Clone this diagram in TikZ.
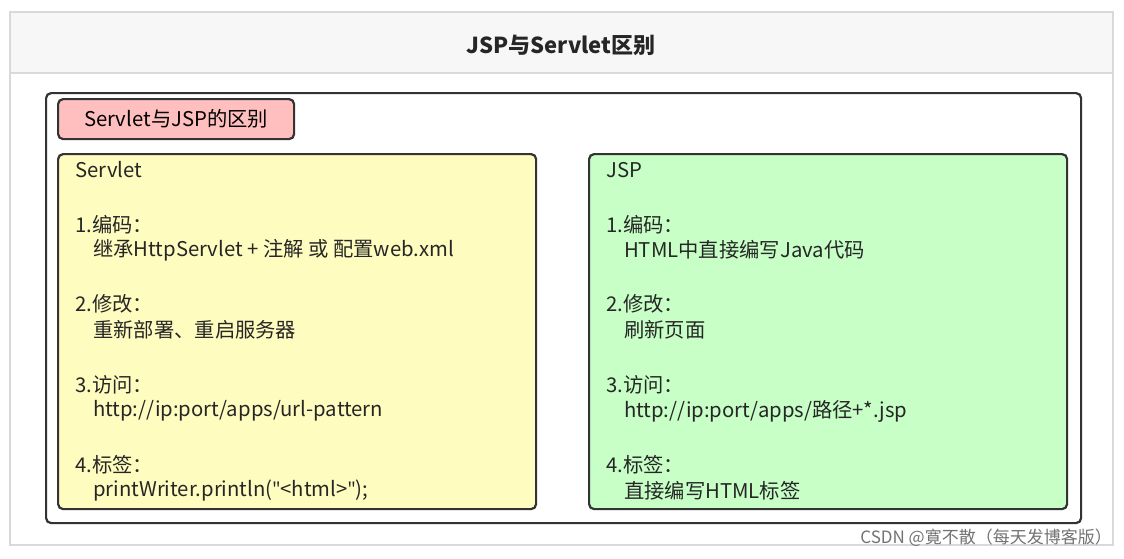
\documentclass[tikz,border=0pt]{standalone}
\usepackage{fontspec}
\setmainfont{Noto Sans CJK SC}
\newfontfamily\qfont{Open Sans}
\newcommand{\sq}{{\qfont\symbol{"22}}}
\begin{document}
\begin{tikzpicture}[x=1pt,y=-1pt,
  box/.style={draw=black!80,line width=2.2pt,rounded corners=5pt},
  txt/.style={anchor=west,font=\fontsize{20.3}{22}\selectfont,text=black!85,inner sep=0pt}]
\useasboundingbox (0,0) rectangle (1124,558);
\fill[white] (0,0) rectangle (1124,558);
\draw[black!15,line width=1.2pt,fill=black!3] (10,12) rectangle (1113,545);
\draw[black!15,line width=1.2pt,fill=white] (10,73) rectangle (1113,545);
\node[font=\bfseries\fontsize{22}{24}\selectfont,text=black!85] (title) at (561,45) {JSP与Servlet区别};
\node[box,fill=white,minimum width=1035,minimum height=430,anchor=north west] (outer) at (45,92) {};
\node[box,fill=red!25,minimum width=236,minimum height=40,anchor=north west,font=\fontsize{20.3}{22}\selectfont] (lab) at (57,98) {Servlet与JSP的区别};
\node[box,fill=yellow!25!white,minimum width=478,minimum height=355,anchor=north west] (s) at (57,153) {};
\node[box,fill=green!22!white,minimum width=478,minimum height=355,anchor=north west] (j) at (588,153) {};
\node[txt] (s1) at (75,170) {Servlet};
\node[txt] (s2) at (75,225) {1.编码：};
\node[txt] (s3) at (93,250) {继承HttpServlet + 注解 或 配置web.xml};
\node[txt] (s4) at (75,304) {2.修改：};
\node[txt] (s5) at (93,330) {重新部署、重启服务器};
\node[txt] (s6) at (75,385) {3.访问：};
\node[txt] (s7) at (93,411) {http://ip:port/apps/url-pattern};
\node[txt] (s8) at (75,465) {4.标签：};
\node[txt] (s9) at (93,491) {printWriter.println(\sq<html>\sq);};
\node[txt] (j1) at (606,170) {JSP};
\node[txt] (j2) at (606,225) {1.编码：};
\node[txt] (j3) at (624,250) {HTML中直接编写Java代码};
\node[txt] (j4) at (606,304) {2.修改：};
\node[txt] (j5) at (624,330) {刷新页面};
\node[txt] (j6) at (606,385) {3.访问：};
\node[txt] (j7) at (624,411) {http://ip:port/apps/路径+*.jsp};
\node[txt] (j8) at (606,465) {4.标签：};
\node[txt] (j9) at (624,491) {直接编写HTML标签};
\node[anchor=east,font=\fontsize{17}{20}\selectfont,text=black!55,inner sep=0pt] (wm) at (1112,538) {CSDN @寛不散（每天发博客版）};
\end{tikzpicture}
\end{document}
